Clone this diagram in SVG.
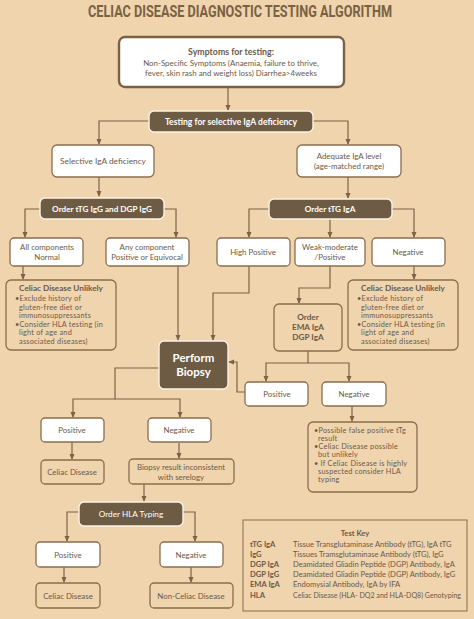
<svg xmlns="http://www.w3.org/2000/svg" width="474" height="619" viewBox="0 0 474 619">
<defs>
<marker id="ah" markerUnits="userSpaceOnUse" markerWidth="6" markerHeight="6" viewBox="0 0 6 6" refX="5" refY="3" orient="auto">
<path d="M0,0.5 L6,3 L0,5.5 Z" fill="#7E6347"/>
</marker>
<style>
text{font-family:"Lato","Liberation Sans",sans-serif;fill:#6B5A48;font-size:7.9px}
.c{text-anchor:middle}
.b{font-weight:bold}
.w{fill:#FFFFFF;font-weight:bold;font-size:8.2px}
.bl{font-size:7.3px;letter-spacing:0.25px}
.k{font-size:7.6px}
.box{fill:#FFFFFF;stroke:#8A6D4E;stroke-width:1.3}
.dark{fill:#6E5B43;stroke:#FBF3E6;stroke-width:1.4}
.out{fill:none;stroke:#8A6D4E;stroke-width:1.3}
.ln{fill:none;stroke:#7E6347;stroke-width:1.2;marker-end:url(#ah)}
</style>
</defs>
<rect width="474" height="619" fill="#EFD4AE"/>
<text x="240" y="17" class="c b" textLength="304" lengthAdjust="spacingAndGlyphs" style="font-family:'Liberation Sans Narrow','Roboto','Liberation Sans',sans-serif;font-size:16px;fill:#7A6143">CELIAC DISEASE DIAGNOSTIC TESTING ALGORITHM</text>

<g id="connectors">
<path class="ln" d="M228,88 V110"/>
<path class="ln" d="M149,121 H99 V144"/>
<path class="ln" d="M313,121 H348 V144"/>
<path class="ln" d="M99,177 V196"/>
<path class="ln" d="M348,177 V198"/>
<path class="ln" d="M40,209 H25 V237"/>
<path class="ln" d="M164,209 H176 V237"/>
<path class="ln" d="M269,209 H249 V237"/>
<path class="ln" d="M330,219 V237"/>
<path class="ln" d="M392,209 H414 V237"/>
<path class="ln" d="M23,266 V279"/>
<path class="ln" d="M178,266 V340"/>
<path class="ln" d="M249,266 V293 H213 V340"/>
<path class="ln" d="M330,266 V288 H299 V303"/>
<path class="ln" d="M414,266 V279"/>
<path class="ln" d="M308,351 V363 H266 V381"/>
<path class="ln" d="M308,363 H349 V381"/>
<path class="ln" d="M245,392 H237 V362 H229"/>
<path class="ln" d="M352,406 V421"/>
<path class="ln" d="M159,368 H115 V399 H73 V417"/>
<path class="ln" d="M115,399 H180 V417"/>
<path class="ln" d="M72,442 V459"/>
<path class="ln" d="M179,443 V458"/>
<path class="ln" d="M144,484 V501"/>
<path class="ln" d="M79,512 H67 V541"/>
<path class="ln" d="M183,512 H195 V541"/>
<path class="ln" d="M64,567 V582"/>
<path class="ln" d="M191,567 V582"/>
</g>

<g id="symptoms">
<rect x="119" y="37" width="225" height="50" rx="6" fill="#FFFFFF" stroke="#7A6143" stroke-width="2.4"/>
<text x="231" y="55" class="c b" style="font-size:8.8px">Symptoms for testing:</text>
<text x="231" y="66" class="c">Non-Specific Symptoms (Anaemia, failure to thrive,</text>
<text x="231" y="76" class="c">fever, skin rash and weight loss) Diarrhea&gt;4weeks</text>
</g>

<g id="testing-iga">
<rect x="149" y="111" width="164" height="21" rx="5" class="dark"/>
<text x="231" y="124.5" class="c w" style="font-size:8.6px">Testing for selective IgA deficiency</text>
</g>

<g id="selective-iga">
<rect x="52" y="145" width="102" height="32" rx="5" class="box"/>
<text x="103" y="163.5" class="c" style="font-size:8.3px">Selective IgA deficiency</text>
</g>

<g id="adequate-iga">
<rect x="297" y="145" width="104" height="32" rx="5" class="box"/>
<text x="349" y="159" class="c">Adequate IgA level</text>
<text x="349" y="169" class="c">(age-matched range)</text>
</g>

<g id="order-ttg-igg">
<rect x="40" y="198" width="124" height="21" rx="5" class="dark"/>
<text x="102" y="211.5" class="c w">Order tTG IgG and DGP IgG</text>
</g>

<g id="order-ttg-iga">
<rect x="269" y="199" width="123" height="20" rx="5" class="dark"/>
<text x="330" y="212" class="c w">Order tTG IgA</text>
</g>

<g id="all-normal">
<rect x="10" y="238" width="73" height="28" rx="4" class="box"/>
<text x="47" y="250" class="c">All components</text>
<text x="47" y="260" class="c">Normal</text>
</g>

<g id="any-positive">
<rect x="106" y="238" width="83" height="28" rx="4" class="box"/>
<text x="147" y="250" class="c">Any component</text>
<text x="147" y="260" class="c">Positive or Equivocal</text>
</g>

<g id="high-positive">
<rect x="217" y="238" width="73" height="28" rx="4" class="box"/>
<text x="253" y="255" class="c">High Positive</text>
</g>

<g id="weak-moderate">
<rect x="295" y="238" width="70" height="28" rx="4" class="box"/>
<text x="330" y="250" class="c">Weak-moderate</text>
<text x="330" y="260" class="c">/Positive</text>
</g>

<g id="negative-ttg">
<rect x="372" y="238" width="73" height="28" rx="4" class="box"/>
<text x="408" y="255" class="c">Negative</text>
</g>

<g id="unlikely-left">
<rect x="6" y="280" width="110" height="70" rx="5" class="out"/>
<text x="61" y="291" class="c b" style="font-size:8.2px">Celiac Disease Unlikely</text>
<text x="15" y="301" class="bl">•Exclude history of</text>
<text x="19" y="309.6" class="bl">gluten-free diet or</text>
<text x="19" y="318.2" class="bl">immunosuppressants</text>
<text x="15" y="326.8" class="bl">•Consider HLA testing (in</text>
<text x="19" y="335.4" class="bl">light of age and</text>
<text x="19" y="344" class="bl">associated diseases)</text>
</g>

<g id="unlikely-right">
<rect x="348" y="280" width="110" height="70" rx="5" class="out"/>
<text x="403" y="291" class="c b" style="font-size:8.2px">Celiac Disease Unlikely</text>
<text x="357" y="301" class="bl">•Exclude history of</text>
<text x="361" y="309.6" class="bl">gluten-free diet or</text>
<text x="361" y="318.2" class="bl">immunosuppressants</text>
<text x="357" y="326.8" class="bl">•Consider HLA testing (in</text>
<text x="361" y="335.4" class="bl">light of age and</text>
<text x="361" y="344" class="bl">associated diseases)</text>
</g>

<g id="order-ema-dgp">
<rect x="274" y="304" width="68" height="47" rx="5" class="out"/>
<text x="308" y="320" class="c b" style="font-size:8.2px">Order</text>
<text x="308" y="330" class="c b" style="font-size:8.2px">EMA IgA</text>
<text x="308" y="340" class="c b" style="font-size:8.2px">DGP IgA</text>
</g>

<g id="perform-biopsy">
<rect x="159" y="341" width="69" height="48" rx="5" class="dark"/>
<text x="193.5" y="362" class="c w" style="font-size:11.5px">Perform</text>
<text x="193.5" y="376" class="c w" style="font-size:11.5px">Biopsy</text>
</g>

<g id="positive-ema">
<rect x="245" y="382" width="63" height="24" rx="4" class="box"/>
<text x="277" y="397" class="c">Positive</text>
</g>

<g id="negative-ema">
<rect x="322" y="382" width="64" height="24" rx="4" class="box"/>
<text x="354" y="397" class="c">Negative</text>
</g>

<g id="false-positive">
<rect x="308" y="422" width="109" height="70" rx="5" class="out"/>
<text x="314" y="432.5" class="bl">•Possible false positive tTg</text>
<text x="318" y="440.8" class="bl">result</text>
<text x="314" y="449.1" class="bl">•Celiac Disease possible</text>
<text x="318" y="457.4" class="bl">but unlikely</text>
<text x="314" y="465.7" class="bl">•  If Celiac Disease is highly</text>
<text x="318" y="474" class="bl">suspected consider HLA</text>
<text x="318" y="482.3" class="bl">typing</text>
</g>

<g id="positive-biopsy">
<rect x="41" y="418" width="63" height="24" rx="4" class="box"/>
<text x="72" y="433" class="c">Positive</text>
</g>

<g id="negative-biopsy">
<rect x="148" y="418" width="63" height="24" rx="4" class="box"/>
<text x="179" y="433" class="c">Negative</text>
</g>

<g id="celiac-1">
<rect x="41" y="460" width="63" height="24" rx="4" class="out"/>
<text x="72" y="475" class="c">Celiac Disease</text>
</g>

<g id="biopsy-inconsistent">
<rect x="129" y="459" width="105" height="25" rx="4" class="out"/>
<text x="181" y="469.5" class="c">Biopsy result inconsistent</text>
<text x="181" y="479.5" class="c">with serelogy</text>
</g>

<g id="order-hla">
<rect x="79" y="502" width="104" height="24" rx="5" class="dark"/>
<text x="131" y="517" class="c w" style="font-weight:normal">Order HLA Typing</text>
</g>

<g id="positive-hla">
<rect x="36" y="542" width="64" height="25" rx="4" class="box"/>
<text x="68" y="557.5" class="c">Positive</text>
</g>

<g id="negative-hla">
<rect x="160" y="542" width="63" height="25" rx="4" class="box"/>
<text x="191" y="557.5" class="c">Negative</text>
</g>

<g id="celiac-2">
<rect x="36" y="583" width="64" height="25" rx="4" class="out"/>
<text x="68" y="598.5" class="c">Celiac Disease</text>
</g>

<g id="non-celiac">
<rect x="150" y="583" width="83" height="25" rx="4" class="out"/>
<text x="191" y="598.5" class="c">Non-Celiac Disease</text>
</g>

<g id="test-key">
<rect x="243" y="520" width="224" height="91" fill="none" stroke="#8A6D4E" stroke-width="1"/>
<text x="355" y="536" class="c b k">Test Key</text>
<text x="250" y="547" class="b k">tTG IgA</text>
<text x="293" y="547" class="k">Tissue Transglutaminase Antibody (tTG), IgA tTG</text>
<text x="250" y="557" class="b k">IgG</text>
<text x="293" y="557" class="k">Tissues Tramsglutaminase Antibody (tTG), IgG</text>
<text x="250" y="567" class="b k">DGP IgA</text>
<text x="293" y="567" class="k">Deamidated Gliadin Peptide (DGP) Antibody, IgA</text>
<text x="250" y="577" class="b k">DGP IgG</text>
<text x="293" y="577" class="k">Deamidated Gliadin Peptide (DGP) Antibody, IgG</text>
<text x="250" y="587" class="b k">EMA IgA</text>
<text x="293" y="587" class="k">Endomysial Antibody, IgA by IFA</text>
<text x="250" y="598" class="b k">HLA</text>
<text x="293" y="598" class="k" textLength="168" lengthAdjust="spacingAndGlyphs">Celiac Disease (HLA- DQ2 and HLA-DQ8) Genotyping</text>
</g>
</svg>
